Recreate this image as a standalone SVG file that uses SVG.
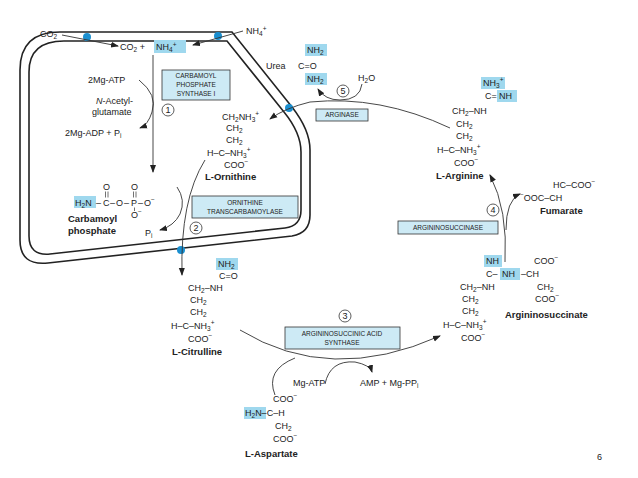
<svg xmlns="http://www.w3.org/2000/svg" width="638" height="478" viewBox="0 0 638 478">
<defs>
<marker id="ah" markerWidth="8" markerHeight="8" refX="7" refY="4" orient="auto" markerUnits="userSpaceOnUse"><path d="M0,1 L8,4 L0,7 Z" fill="#222"/></marker>
<style>
text{font-family:"Liberation Sans",Arial,sans-serif;font-size:9px;fill:#222}
.b{font-weight:bold;font-size:9.5px}
.s{font-size:6.5px}
.hl{fill:#9fd8ee}
.box{fill:#cdeaf5;stroke:#333;stroke-width:0.8}
.ln{fill:none;stroke:#333;stroke-width:0.9}
.mem{fill:none;stroke:#222;stroke-width:1.6}
.dot{fill:#1a8fd0}
.c{fill:none;stroke:#333;stroke-width:0.8}
.bd{stroke:#333;stroke-width:0.7}
</style>
</defs>
<rect width="638" height="478" fill="#fff"/>
<g id="mitochondrion">
<path class="mem" d="M60,32 L232,32 L292,107 Q310,130 310,150 L310,215 Q310,233 292,236 L48,263 Q20,266 20,240 L20,70 Q20,32 60,32 Z"/>
<path class="mem" d="M64,41 L227,41 L284,112 Q301,133 301,152 L301,210 Q301,226 285,228 L50,254 Q29,256 29,236 L29,72 Q29,41 64,41 Z"/>
<circle class="dot" cx="87" cy="37" r="4"/><circle class="dot" cx="218" cy="36" r="4"/><circle class="dot" cx="289" cy="108" r="4"/><circle class="dot" cx="181" cy="250" r="4"/>
</g>
<g id="connectors">
<path class="ln" d="M62,35 L118,46" marker-end="url(#ah)"/>
<path class="ln" d="M243,31 L193,45" marker-end="url(#ah)"/>
<path class="ln" d="M153,55 L153,172" marker-end="url(#ah)"/>
<path class="ln" d="M139,80 Q158,95 152,112 Q148,125 140,128" marker-end="url(#ah)"/>
<path class="ln" d="M177,187 Q186,200 180,214 Q174,226 160,230" marker-end="url(#ah)"/>
<path class="ln" d="M205,160 Q180,200 182,275" marker-end="url(#ah)"/>
<path class="ln" d="M450,128 Q380,95 310,102 Q285,108 270,119" marker-end="url(#ah)"/>
<path class="ln" d="M362,84 Q360,100 340,100 Q325,100 318,89" marker-end="url(#ah)"/>
<path class="ln" d="M505,262 Q508,210 490,175" marker-end="url(#ah)"/>
<path class="ln" d="M506,230 Q506,200 520,194" marker-end="url(#ah)"/>
<path class="ln" d="M240,330 Q330,385 440,336" marker-end="url(#ah)"/>
<path class="ln" d="M275,395 Q265,370 295,358"/>
<path class="ln" d="M325,384 Q330,360 355,362 Q370,365 372,372" marker-end="url(#ah)"/>
</g>
<g id="cps">
<text x="120" y="50">CO<tspan class="s" dy="2">2</tspan><tspan dy="-2"> + </tspan></text>
<rect class="hl" x="154" y="40" width="32" height="13"/>
<text x="156" y="50">NH<tspan class="s" dy="2">4</tspan><tspan class="s" dy="-5">+</tspan></text>
<text x="40" y="37">CO<tspan class="s" dy="2">2</tspan></text>
<text x="246" y="34">NH<tspan class="s" dy="2">4</tspan><tspan class="s" dy="-5">+</tspan></text>
<rect class="box" x="162" y="70" width="68" height="30"/>
<text class="s" x="196" y="78" text-anchor="middle">CARBAMOYL</text>
<text class="s" x="196" y="87" text-anchor="middle">PHOSPHATE</text>
<text class="s" x="196" y="96" text-anchor="middle">SYNTHASE I</text>
<text x="88" y="83">2Mg-ATP</text>
<text x="96" y="104"><tspan font-style="italic">N</tspan>-Acetyl-</text>
<text x="92" y="115">glutamate</text>
<text x="65" y="136">2Mg-ADP + P<tspan class="s" dy="2">i</tspan></text>
<circle class="c" cx="168" cy="110" r="6"/><text x="168" y="113" text-anchor="middle" font-size="8">1</text>
</g>
<g id="carbamoyl-phosphate">
<rect class="hl" x="74" y="196" width="22" height="12"/>
<text x="75" y="206">H<tspan class="s" dy="2">2</tspan><tspan dy="-2">N</tspan></text>
<text x="96" y="206">–</text><text x="103" y="206">C</text><text x="110" y="206">–</text><text x="116" y="206">O</text><text x="124" y="206">–</text><text x="131" y="206">P</text><text x="138" y="206">–</text><text x="144" y="206">O<tspan class="s" dy="-4">−</tspan></text>
<text x="103" y="190">O</text><text x="131" y="190">O</text>
<path class="bd" d="M105.5,191.5 V197.5 M108,191.5 V197.5 M133.5,191.5 V197.5 M136,191.5 V197.5"/>
<path class="bd" d="M134.5,207.5 V211"/>
<text x="131" y="218">O<tspan class="s" dy="-4">−</tspan></text>
<text class="b" x="68" y="222">Carbamoyl</text>
<text class="b" x="68" y="234">phosphate</text>
<text x="145" y="236">P<tspan class="s" dy="2">i</tspan></text>
</g>
<g id="otc">
<rect class="box" x="192" y="196" width="106" height="22"/>
<text class="s" x="245" y="205" text-anchor="middle">ORNITHINE</text>
<text class="s" x="245" y="214" text-anchor="middle">TRANSCARBAMOYLASE</text>
<circle class="c" cx="196" cy="228" r="6"/><text x="196" y="231" text-anchor="middle" font-size="8">2</text>
</g>
<g id="ornithine">
<text x="222" y="120">CH<tspan class="s" dy="2">2</tspan><tspan dy="-2">NH</tspan><tspan class="s" dy="2">3</tspan><tspan class="s" dy="-6">+</tspan></text>
<text x="226" y="131">CH<tspan class="s" dy="2">2</tspan></text>
<text x="226" y="143">CH<tspan class="s" dy="2">2</tspan></text>
<text x="207" y="156">H–C–NH<tspan class="s" dy="2">3</tspan><tspan class="s" dy="-6">+</tspan></text>
<text x="224" y="168">COO<tspan class="s" dy="-4">−</tspan></text>
<text class="b" x="205" y="180">L-Ornithine</text>
</g>
<g id="urea">
<text x="266" y="69">Urea</text>
<rect class="hl" x="305" y="44" width="22" height="12"/><text x="307" y="53">NH<tspan class="s" dy="2">2</tspan></text>
<text x="298" y="69">C=O</text>
<rect class="hl" x="305" y="73" width="22" height="12"/><text x="307" y="82">NH<tspan class="s" dy="2">2</tspan></text>
<text x="358" y="81">H<tspan class="s" dy="2">2</tspan><tspan dy="-2">O</tspan></text>
<circle class="c" cx="343" cy="91" r="6"/><text x="343" y="94" text-anchor="middle" font-size="8">5</text>
<rect class="box" x="316" y="109" width="52" height="12"/>
<text class="s" x="342" y="117" text-anchor="middle">ARGINASE</text>
</g>
<g id="arginine">
<rect class="hl" x="481" y="77" width="24" height="12"/>
<text x="483" y="86">NH<tspan class="s" dy="2">3</tspan><tspan class="s" dy="-6">+</tspan></text>
<text x="485" y="99">C=</text>
<rect class="hl" x="497" y="90" width="20" height="12"/><text x="499" y="99">NH</text>
<text x="452" y="114">CH<tspan class="s" dy="2">2</tspan><tspan dy="-2">–NH</tspan></text>
<text x="456" y="127">CH<tspan class="s" dy="2">2</tspan></text>
<text x="456" y="139">CH<tspan class="s" dy="2">2</tspan></text>
<text x="437" y="153">H–C–NH<tspan class="s" dy="2">3</tspan><tspan class="s" dy="-6">+</tspan></text>
<text x="454" y="166">COO<tspan class="s" dy="-4">−</tspan></text>
<text class="b" x="436" y="179">L-Arginine</text>
</g>
<g id="fumarate">
<text x="553" y="188">HC–COO<tspan class="s" dy="-4">−</tspan></text>
<text x="520" y="201"><tspan class="s" dy="-4">−</tspan><tspan dy="4">OOC–CH</tspan></text>
<text class="b" x="540" y="214">Fumarate</text>
<circle class="c" cx="493" cy="210" r="6"/><text x="493" y="213" text-anchor="middle" font-size="8">4</text>
<rect class="box" x="398" y="221" width="100" height="13"/>
<text class="s" x="448" y="230" text-anchor="middle">ARGININOSUCCINASE</text>
</g>
<g id="argininosuccinate">
<rect class="hl" x="484" y="255" width="18" height="12"/><text x="486" y="264">NH</text>
<text x="534" y="264">COO<tspan class="s" dy="-4">−</tspan></text>
<text x="486" y="277">C–</text>
<rect class="hl" x="500" y="268" width="20" height="12"/><text x="502" y="277">NH</text>
<text x="521" y="277">–CH</text>
<text x="460" y="290">CH<tspan class="s" dy="2">2</tspan><tspan dy="-2">–NH</tspan></text>
<text x="537" y="290">CH<tspan class="s" dy="2">2</tspan></text>
<text x="462" y="302">CH<tspan class="s" dy="2">2</tspan></text>
<text x="535" y="302">COO<tspan class="s" dy="-4">−</tspan></text>
<text x="462" y="314">CH<tspan class="s" dy="2">2</tspan></text>
<text class="b" x="505" y="318">Argininosuccinate</text>
<text x="443" y="328">H–C–NH<tspan class="s" dy="2">3</tspan><tspan class="s" dy="-6">+</tspan></text>
<text x="461" y="341">COO<tspan class="s" dy="-4">−</tspan></text>
</g>
<g id="citrulline">
<rect class="hl" x="216" y="258" width="22" height="12"/><text x="218" y="267">NH<tspan class="s" dy="2">2</tspan></text>
<text x="219" y="279">C=O</text>
<text x="188" y="291">CH<tspan class="s" dy="2">2</tspan><tspan dy="-2">–NH</tspan></text>
<text x="190" y="303">CH<tspan class="s" dy="2">2</tspan></text>
<text x="190" y="315">CH<tspan class="s" dy="2">2</tspan></text>
<text x="171" y="329">H–C–NH<tspan class="s" dy="2">3</tspan><tspan class="s" dy="-6">+</tspan></text>
<text x="188" y="342">COO<tspan class="s" dy="-4">−</tspan></text>
<text class="b" x="172" y="355">L-Citrulline</text>
</g>
<g id="ass">
<circle class="c" cx="345" cy="316" r="6"/><text x="345" y="319" text-anchor="middle" font-size="8">3</text>
<rect class="box" x="285" y="327" width="115" height="22"/>
<text class="s" x="342" y="336" text-anchor="middle">ARGININOSUCCINIC ACID</text>
<text class="s" x="342" y="345" text-anchor="middle">SYNTHASE</text>
<text x="293" y="386">Mg-ATP</text>
<text x="360" y="386">AMP + Mg-PP<tspan class="s" dy="2">i</tspan></text>
</g>
<g id="aspartate">
<text x="273" y="402">COO<tspan class="s" dy="-4">−</tspan></text>
<rect class="hl" x="244" y="407" width="22" height="12"/>
<text x="245" y="416">H<tspan class="s" dy="2">2</tspan><tspan dy="-2">N–C–H</tspan></text>
<text x="275" y="429">CH<tspan class="s" dy="2">2</tspan></text>
<text x="273" y="442">COO<tspan class="s" dy="-4">−</tspan></text>
<text class="b" x="245" y="457">L-Aspartate</text>
</g>
<text x="597" y="460" font-size="8" fill="#777">6</text>
</svg>
